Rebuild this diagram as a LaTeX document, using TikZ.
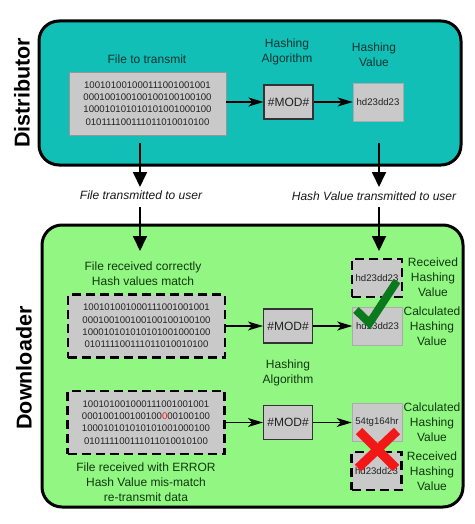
\documentclass[tikz,border=0pt]{standalone}
\usepackage{fontspec}
\setmainfont{Liberation Sans}
\usetikzlibrary{arrows.meta}
\definecolor{tealfill}{RGB}{18,191,182}
\definecolor{greenfill}{RGB}{146,247,130}
\definecolor{boxgray}{RGB}{201,201,201}
\definecolor{boxedge}{RGB}{150,150,150}
\definecolor{tealtext}{RGB}{14,52,50}
\definecolor{greentext}{RGB}{16,56,16}
\definecolor{checkgreen}{RGB}{10,122,28}
\definecolor{crossred}{RGB}{242,24,24}
\definecolor{bintext}{RGB}{34,34,34}
\tikzset{
  panel/.style={line width=3pt, draw=black, rounded corners=20pt},
  filebox/.style={fill=boxgray, draw=boxedge, line width=0.8pt, minimum width=157pt, minimum height=63pt,
    inner sep=0pt, align=center, text=bintext, font=\fontsize{9.6}{12.3}\selectfont},
  dashedfile/.style={filebox, draw=black, line width=2.6pt, dash pattern=on 9pt off 5pt},
  modbox/.style={fill=boxgray, draw=black!80, line width=1.1pt, minimum width=49pt, minimum height=34pt,
    inner sep=0pt, text=bintext, font=\fontsize{12}{14}\selectfont},
  hashbox/.style={fill=boxgray, draw=boxgray!85!black, line width=0.6pt, minimum width=50pt, minimum height=38pt,
    inner sep=0pt, text=bintext, font=\fontsize{9.6}{12}\selectfont},
  dashedhash/.style={hashbox, draw=black, line width=2.6pt, dash pattern=on 9pt off 5pt},
  lbl/.style={align=center, inner sep=0pt, font=\fontsize{12}{15}\selectfont},
  itlbl/.style={align=center, inner sep=0pt, font=\fontsize{12}{15}\selectfont\itshape, text=black!90},
  sidelbl/.style={rotate=90, inner sep=0pt, font=\fontsize{21.5}{24}\selectfont\bfseries},
  harrow/.style={line width=1.3pt, -{Stealth[width=9pt,length=15pt,inset=4pt]}},
  varrow/.style={line width=1.8pt, -{Triangle[width=14pt,length=15pt]}},
}
\newcommand{\binA}{100101001000111001001001\\000100100100100100100100\\100010101010101001000100\\010111100111011010010100}
\newcommand{\binB}{100101001000111001001001\\000100100100100{\color{crossred}0}00100100\\100010101010101001000100\\010111100111011010010100}
\begin{document}
\begin{tikzpicture}[x=1pt,y=-1pt]
\useasboundingbox[fill=white] (0,0) rectangle (474,524);
% panels
\draw[panel, fill=tealfill] (39,21) rectangle (461,165);
\draw[panel, fill=greenfill] (42,225) rectangle (463,507);
\node[sidelbl] (distlbl) at (22,93) {Distributor};
\node[sidelbl] (downlbl) at (24,368) {Downloader};
% distributor
\node[lbl, text=tealtext] (ftt) at (147,59) {File to transmit};
\node[lbl, text=tealtext] (ha1) at (287,51.5) {Hashing\\Algorithm};
\node[lbl, text=tealtext] (hv1) at (374,54.5) {Hashing\\Value};
\node[filebox] (file1) at (147.5,103.5) {\binA};
\node[modbox] (mod1) at (288.5,102) {\#MOD\#};
\node[hashbox] (hash1) at (378,102) {hd23dd23};
\draw[harrow] (file1.east |- mod1) -- (mod1.west);
\draw[harrow] (mod1.east) -- (hash1.west);
% transfer arrows
\coordinate (s1) at (140,143);
\coordinate (e1) at (140,187);
\coordinate (s2) at (379,143);
\coordinate (e2) at (379,187);
\node[itlbl] (t1) at (141,195.5) {File transmitted to user};
\node[itlbl] (t2) at (374,196.5) {Hash Value transmitted to user};
\coordinate (s3) at (140,207);
\coordinate (e3) at (140,251);
\coordinate (s4) at (379,207);
\coordinate (e4) at (379,251);
\draw[varrow] (s1) -- (e1);
\draw[varrow] (s2) -- (e2);
\draw[varrow] (s3) -- (e3);
\draw[varrow] (s4) -- (e4);
% downloader, correct case
\node[lbl, text=greentext] (ok) at (143,274) {File received correctly\\Hash values match};
\node[dashedfile] (file2) at (146.5,326) {\binA};
\node[modbox] (mod2) at (288,326) {\#MOD\#};
\node[hashbox] (calc2) at (377.5,326) {hd23dd23};
\node[dashedhash] (recv2) at (377,278) {hd23dd23};
\node[lbl, text=greentext] (ha2) at (288,373) {Hashing\\Algorithm};
\node[lbl, text=greentext] (rl2) at (433,277) {Received\\Hashing\\Value};
\node[lbl, text=greentext] (cl2) at (432,326) {Calculated\\Hashing\\Value};
\draw[harrow] (file2.east) -- (mod2.west);
\draw[harrow] (mod2.east) -- (calc2.west);
\draw[checkgreen, line width=8pt, line join=miter] (356,310) -- (369.5,323) -- (397,281);
% downloader, error case
\node[dashedfile] (file3) at (146,422.5) {\binB};
\node[modbox] (mod3) at (288,422.5) {\#MOD\#};
\node[hashbox] (calc3) at (377,422.5) {54tg164hr};
\node[dashedhash] (recv3) at (376.5,471) {hd23dd23};
\node[lbl, text=greentext] (cl3) at (432,422) {Calculated\\Hashing\\Value};
\node[lbl, text=greentext] (rl3) at (432,471) {Received\\Hashing\\Value};
\node[lbl, text=greentext] (err) at (146,482.5) {File received with ERROR\\Hash Value mis-match\\re-transmit data};
\draw[harrow] (file3.east) -- (mod3.west);
\draw[harrow] (mod3.east) -- (calc3.west);
\draw[crossred, line width=9pt] (359,431) -- (396,468);
\draw[crossred, line width=9pt] (397,431) -- (358,468);
\end{tikzpicture}
\end{document}
